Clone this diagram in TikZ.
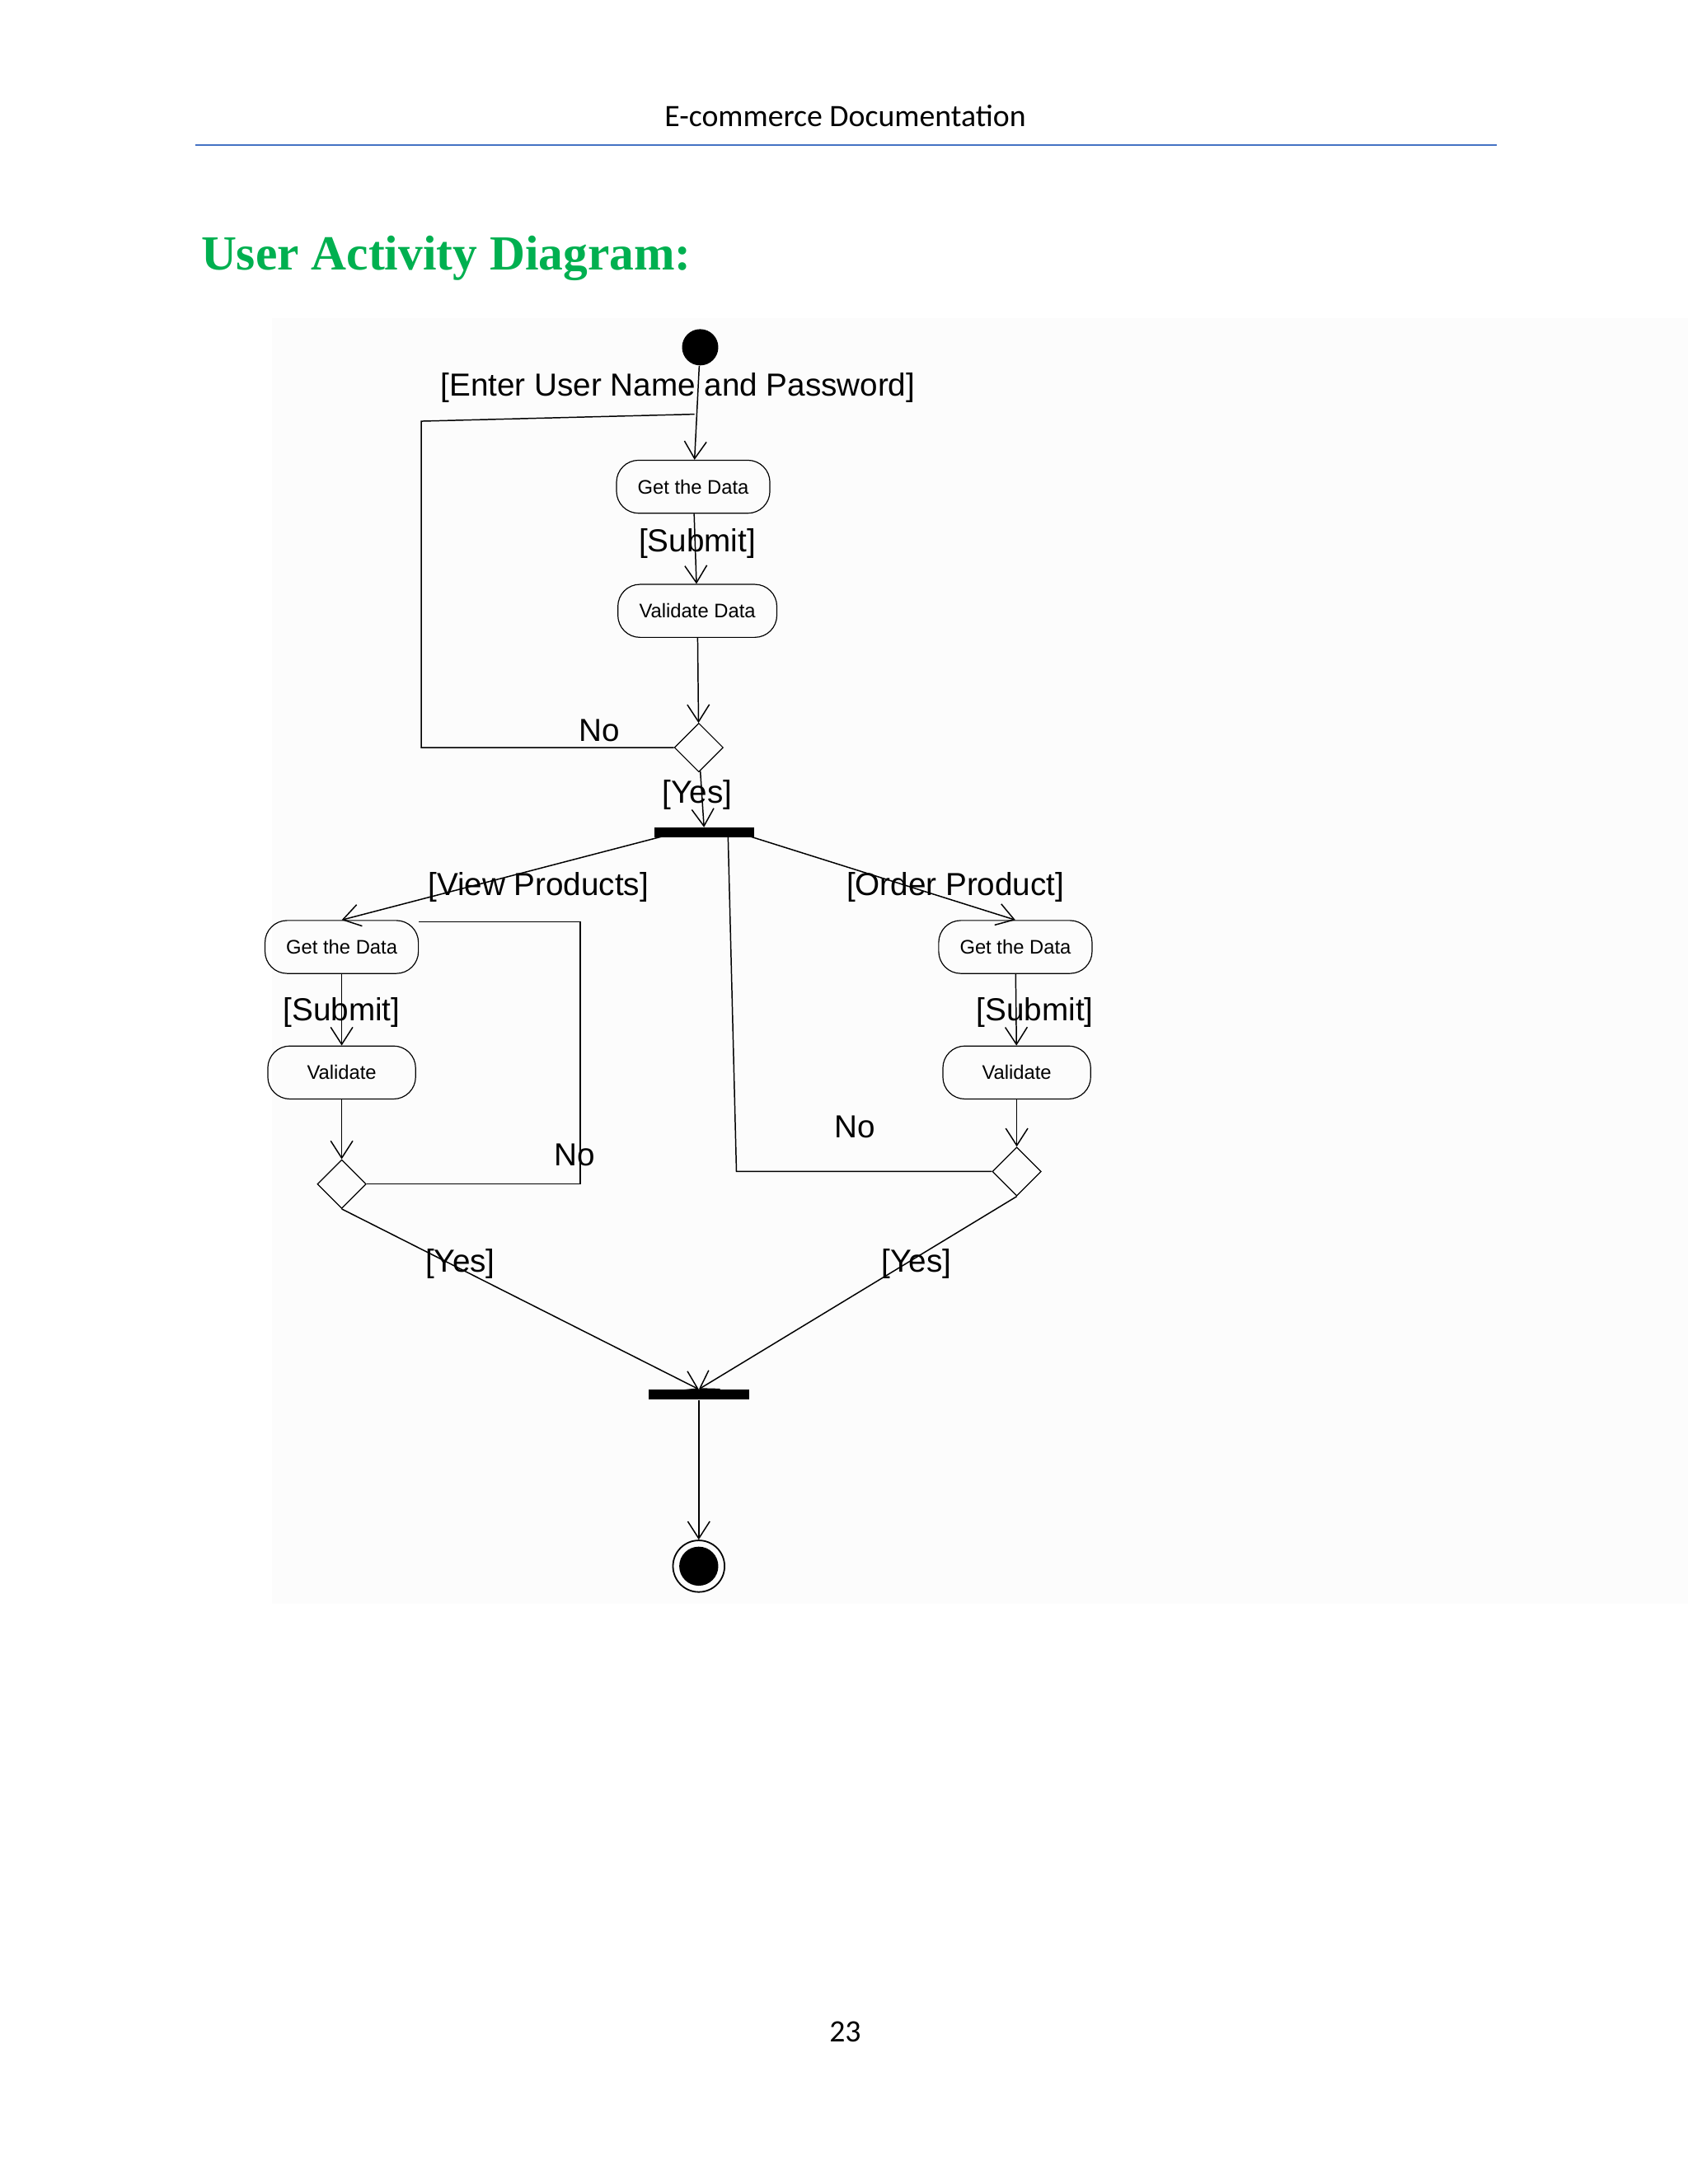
\documentclass[tikz,border=0pt]{standalone}
\usepackage{fontspec}
\setmainfont{Liberation Sans}
\newfontfamily\hdrfont{Carlito}
\newfontfamily\ttlfont{Liberation Serif}
\usetikzlibrary{arrows.meta,shapes.geometric}
\definecolor{ttlgreen}{RGB}{0,176,80}
\definecolor{hdrblue}{RGB}{68,114,196}
\begin{document}
\begin{tikzpicture}[x=0.02cm,y=-0.02cm,
  act/.style={draw,rounded corners=9pt,minimum height=0.76cm,font=\fontsize{8}{9}\selectfont,inner sep=2pt},
  dec/.style={draw,diamond,minimum width=0.7cm,minimum height=0.7cm,inner sep=0pt},
  bar/.style={fill=black,minimum width=1.44cm,minimum height=0.14cm,inner sep=0pt},
  lbl/.style={font=\fontsize{13}{15}\selectfont},
  arr/.style={-{Straight Barb[length=7pt,width=9pt]},line width=0.5pt},
  ln/.style={line width=0.5pt}]
\useasboundingbox (0,0) rectangle (1210,1566);
\fill[white] (0,0) rectangle (1210,1566);
\fill[black!1.2] (195,228) rectangle (1210,1150);
\node[font=\hdrfont\fontsize{12.7}{15}\selectfont] (hdr) at (606,83) {E-commerce Documentation};
\draw[hdrblue,line width=1pt] (140,104) -- (1073,104);
\node[anchor=west,text=ttlgreen,font=\ttlfont\bfseries\fontsize{20}{24}\selectfont] (ttl) at (138,185) {User Activity Diagram:};
\node[font=\hdrfont\fontsize{12.7}{15}\selectfont] (pg) at (606,1457) {23};

\node[circle,fill=black,minimum size=0.52cm,inner sep=0pt] (start) at (502,249) {};
\node[act,minimum width=2.2cm] (g1) at (497,349) {Get the Data};
\node[act,minimum width=2.28cm] (v1) at (500,438) {Validate Data};
\node[dec] (d1) at (501,536) {};
\node[bar] (fork) at (505,597) {};
\node[act,minimum width=2.2cm] (gl) at (245,679) {Get the Data};
\node[act,minimum width=2.12cm] (vl) at (245,769) {Validate};
\node[dec] (dl) at (245,849) {};
\node[act,minimum width=2.2cm] (gr) at (728,679) {Get the Data};
\node[act,minimum width=2.12cm] (vr) at (729,769) {Validate};
\node[dec] (dr) at (729,840) {};
\node[bar] (join) at (501,1000) {};
\node[circle,draw,line width=0.6pt,minimum size=0.74cm,inner sep=0pt] (endo) at (501,1123) {};
\node[circle,fill=black,minimum size=0.56cm,inner sep=0pt] at (endo) {};

\coordinate (m1) at (498,297);
\draw[arr] (start) -- (g1);
\draw[ln] (d1.west) -- (302,536) -- (302,302) -- (m1);
\draw[arr] (g1) -- (v1);
\draw[arr] (v1) -- (d1);
\draw[arr] (d1) -- (fork);
\draw[arr] (fork.north west) ++(20,3) -- (gl.north);
\draw[arr] (fork.north east) ++(-15,3) -- (gr.north);
\draw[arr] (gl) -- (vl);
\draw[arr] (vl) -- (dl);
\draw[ln] (dl.east) -- (416,849) -- (416,661) -- (gl.north east |- 0,661);
\draw[arr] (gr) -- (vr);
\draw[arr] (vr) -- (dr);
\draw[ln] (522,600) -- (528,840) -- (dr.west);
\draw[arr] (dl.south) -- (join.north);
\draw[arr] (dr.south) -- (join.north);
\draw[arr] (join) -- (endo);

\node[lbl] at (486,278) {[Enter User Name and Password]};
\node[lbl] at (500,390) {[Submit]};
\node[lbl] at (430,524) {No};
\node[lbl] at (500,570) {[Yes]};
\node[lbl] at (386,636) {[View Products]};
\node[lbl] at (685,636) {[Order Product]};
\node[lbl] at (245,726) {[Submit]};
\node[lbl] at (742,726) {[Submit]};
\node[lbl] at (412,828) {No};
\node[lbl] at (613,808) {No};
\node[lbl] at (330,906) {[Yes]};
\node[lbl] at (657,906) {[Yes]};
\end{tikzpicture}
\end{document}
